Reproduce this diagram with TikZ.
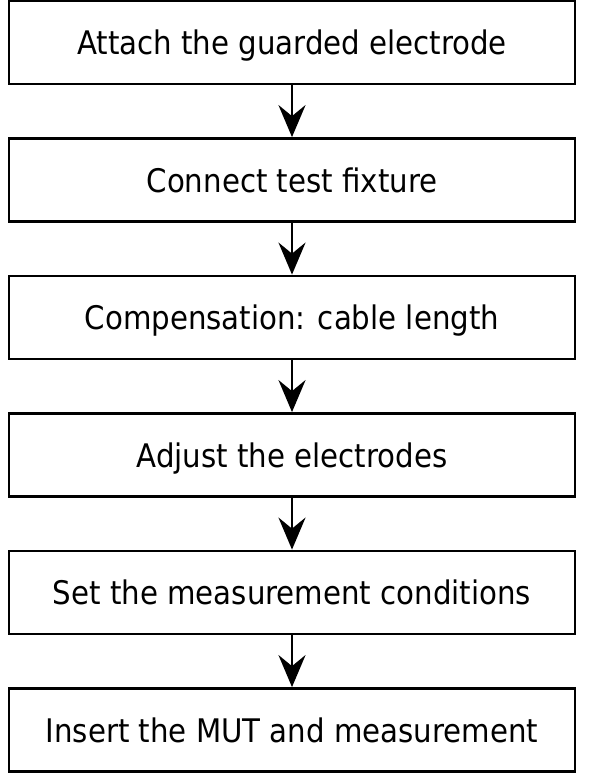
\documentclass[tikz,border=0pt]{standalone}
\usepackage{fontspec}
\setmainfont{DejaVu Sans Condensed}
\usetikzlibrary{arrows.meta}
\begin{document}
\begin{tikzpicture}[x=1pt,y=-1pt,
  stepbox/.style={draw=black,line width=2.8pt,minimum width=566pt,minimum height=83pt,inner sep=0pt,text height=24pt,text depth=0pt,font=\fontsize{32.5}{38}\selectfont},
  flow/.style={line width=2.8pt,-{Stealth[length=32pt,width=27pt,inset=11pt]}}]
\useasboundingbox (0,0) rectangle (592,774);
\node[stepbox] (s1) at (292,42.5) {Attach the guarded electrode};
\node[stepbox] (s2) at (292,180) {Connect test fixture};
\node[stepbox] (s3) at (292,317.5) {Compensation: cable length};
\node[stepbox] (s4) at (292,455) {Adjust the electrodes};
\node[stepbox] (s5) at (292,592.5) {Set the measurement conditions};
\node[stepbox] (s6) at (292,730) {Insert the MUT and measurement};
\foreach \a/\b in {s1/s2,s2/s3,s3/s4,s4/s5,s5/s6}
  \draw[flow] (\a.south) -- (\b.north);
\end{tikzpicture}
\end{document}
